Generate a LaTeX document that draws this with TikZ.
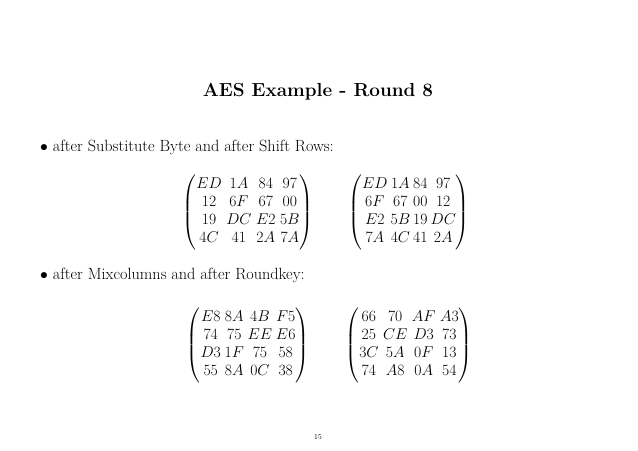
\documentclass[tikz,border=0pt]{standalone}
\usepackage{amsmath}
\begin{document}
\begin{tikzpicture}[x=0.4655mm,y=-0.4655mm,
  txt/.style={inner sep=0pt,font=\fontsize{21.5}{25}\selectfont},
  mat/.style={inner sep=0pt,font=\fontsize{19.5}{23.5}\selectfont}]
\useasboundingbox (0,0) rectangle (638,451);
\node[txt,font=\fontsize{25}{30}\selectfont\bfseries] (title) at (318,92) {AES Example - Round 8};
\node[txt,anchor=west] (b1) at (40,147) {$\bullet$ after Substitute Byte and after Shift Rows:};
\node[mat] (m1) at (248,212) {$\setlength\arraycolsep{3pt}\begin{pmatrix}ED&1A&84&97\\12&6F&67&00\\19&DC&E2&5B\\4C&41&2A&7A\end{pmatrix}$};
\node[mat] (m2) at (409,212) {$\setlength\arraycolsep{2pt}\begin{pmatrix}ED&1A&84&97\\6F&67&00&12\\E2&5B&19&DC\\7A&4C&41&2A\end{pmatrix}$};
\node[txt,anchor=west] (b2) at (40,275) {$\bullet$ after Mixcolumns and after Roundkey:};
\node[mat] (m3) at (248,345) {$\setlength\arraycolsep{2.5pt}\begin{pmatrix}E8&8A&4B&F5\\74&75&EE&E6\\D3&1F&75&58\\55&8A&0C&38\end{pmatrix}$};
\node[mat] (m4) at (409,345) {$\setlength\arraycolsep{3pt}\begin{pmatrix}66&70&AF&A3\\25&CE&D3&73\\3C&5A&0F&13\\74&A8&0A&54\end{pmatrix}$};
\node[txt,font=\fontsize{10}{12}\selectfont] (pg) at (318,437) {15};
\end{tikzpicture}
\end{document}
